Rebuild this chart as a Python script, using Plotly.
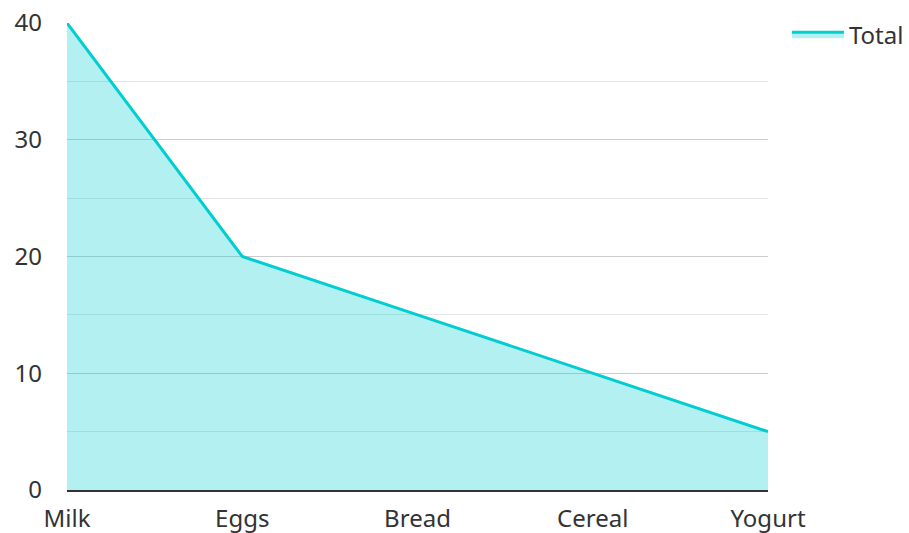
import plotly.graph_objects as go

categories = ["Milk", "Eggs", "Bread", "Cereal", "Yogurt"]
total = [40, 20, 15, 10, 5]
series_name = "Total"

fig = go.Figure()
fig.add_trace(go.Scatter(
    x=categories, y=total, name=series_name, mode="lines",
    fill="tozeroy", fillcolor="rgba(0,206,209,0.3)",
    line=dict(color="#00CED1", width=3),
    showlegend=True,
))

fig.update_layout(
    width=909, height=533,
    margin=dict(l=67, r=141, t=23, b=43, autoexpand=False),
    paper_bgcolor="white", plot_bgcolor="white",
    font=dict(family="Noto Sans", size=24, color="#333333"),
    showlegend=True,
    legend=dict(x=1.027, y=1.023, xanchor="left", yanchor="top", itemwidth=52,
                font=dict(size=24, color="#333333"), bgcolor="rgba(0,0,0,0)"),
    xaxis=dict(showgrid=False, showline=True, linecolor="#333333", linewidth=2,
               ticks="", zeroline=False, range=[0, 4], ticklabelstandoff=6,
               automargin=False),
    yaxis=dict(range=[0, 40], dtick=10, tick0=0, showgrid=True, gridcolor="#cccccc",
               gridwidth=1, zeroline=False, showline=False, ticks="",
               ticklabelstandoff=24, automargin=False, ticklabeloverflow="allow",
               minor=dict(dtick=5, showgrid=True, gridcolor="#e6e6e6", gridwidth=1)),
)

fig.write_html("out.html", config={"displayModeBar": False},
               post_script="document.body.style.margin='0';")
